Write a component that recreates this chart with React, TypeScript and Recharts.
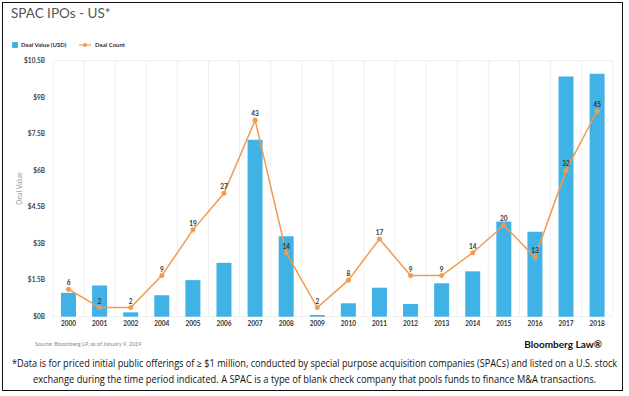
import React, { useLayoutEffect, useRef, useState } from 'react';
import { ComposedChart, Bar, Line, XAxis, YAxis, CartesianGrid, LabelList, Label } from 'recharts';

const years = ['2000', '2001', '2002', '2004', '2005', '2006', '2007', '2008', '2009', '2010', '2011', '2012', '2013', '2014', '2015', '2016', '2017', '2018'];
const dealValue = [0.98, 1.28, 0.18, 0.88, 1.5, 2.21, 7.26, 3.3, 0.07, 0.55, 1.19, 0.52, 1.37, 1.86, 3.9, 3.48, 9.85, 9.96];
const dealCount = [6, 2, 2, 9, 19, 27, 43, 14, 2, 8, 17, 9, 9, 14, 20, 13, 32, 45];
const valueTicks = [0, 1.5, 3, 4.5, 6, 7.5, 9, 10.5];
const valueTickLabels = ['$0B', '$1.5B', '$3B', '$4.5B', '$6B', '$7.5B', '$9B', '$10.5B'];

const footnoteLines = [
  '*Data is for priced initial public offerings of ≥ $1 million, conducted by special purpose acquisition companies (SPACs) and listed on a U.S. stock',
  'exchange during the time period indicated. A SPAC is a type of blank check company that pools funds to finance M&A transactions.',
];

const data = years.map((y, i) => ({ year: y, value: dealValue[i], count: dealCount[i] }));

const BLUE = '#40B2E6';
const ORANGE = '#F29A4F';
const FONT = 'Lato, "Open Sans", sans-serif';

function FitText({ text, left, top, width, fontSize }: { text: string; left: number; top: number; width: number; fontSize: number }) {
  const ref = useRef<HTMLSpanElement>(null);
  const [scale, setScale] = useState(1);
  useLayoutEffect(() => {
    if (ref.current) {
      const w = ref.current.scrollWidth;
      if (w > 0) setScale(width / w);
    }
  }, [text, width]);
  return (
    <div style={{ position: 'absolute', left, top, width, height: 12, overflow: 'visible', lineHeight: 0, fontSize: 0 }}>
      <span
        ref={ref}
        style={{
          display: 'block',
          width: 'max-content',
          whiteSpace: 'nowrap',
          fontSize,
          lineHeight: '12px',
          fontFamily: '"Open Sans", sans-serif',
          color: '#111',
          transform: `scaleX(${scale})`,
          transformOrigin: '0 0',
        }}
      >
        {text}
      </span>
    </div>
  );
}

export default function App() {
  return (
    <div style={{ position: 'absolute', left: 0, top: 0, width: 629, height: 396, background: '#fff', overflow: 'hidden', fontFamily: FONT }}>
      <ComposedChart
        width={629}
        height={340}
        data={data}
        margin={{ top: 60.7, right: 16.3, bottom: 7.3, left: 8 }}
        style={{ position: 'absolute', left: 0, top: 0 }}
      >
        <CartesianGrid
          stroke="#EFEFEF"
          strokeWidth={1}
          verticalCoordinatesGenerator={({ offset }: any) =>
            Array.from({ length: years.length + 1 }, (_, i) => offset.left + (i * offset.width) / years.length)
          }
        />
        <XAxis
          dataKey="year"
          axisLine={false}
          tickLine={false}
          tickSize={0}
          tickMargin={5}
          height={16}
          interval={0}
          tick={{ fontSize: 6.5, fontWeight: 700, fill: '#333', fontFamily: FONT }}
        />
        <YAxis
          yAxisId="value"
          domain={[0, 10.5]}
          ticks={valueTicks}
          tickFormatter={(v: number) => valueTickLabels[valueTicks.indexOf(v)] ?? ''}
          axisLine={false}
          tickLine={false}
          tickSize={0}
          tickMargin={8}
          width={45}
          tick={{ fontSize: 6.5, fontWeight: 700, fill: '#444', fontFamily: FONT }}
        >
          <Label
            content={({ viewBox }: any) => (
              <text
                x={viewBox.x + 11}
                y={viewBox.y + viewBox.height / 2}
                transform={`rotate(-90 ${viewBox.x + 11} ${viewBox.y + viewBox.height / 2})`}
                textAnchor="middle"
                dominantBaseline="central"
                fontSize={7}
                fill="#999"
                fontFamily={FONT}
              >
                Deal Value
              </text>
            )}
          />
        </YAxis>
        <YAxis yAxisId="count" orientation="right" domain={[0, 56]} hide />
        <Bar yAxisId="value" dataKey="value" fill={BLUE} barSize={15} isAnimationActive={false} />
        <Line
          yAxisId="count"
          dataKey="count"
          stroke={ORANGE}
          strokeWidth={1.5}
          dot={{ r: 2.3, fill: ORANGE, stroke: ORANGE, strokeWidth: 0.5 }}
          isAnimationActive={false}
        >
          <LabelList dataKey="count" position="top" offset={4} style={{ fontSize: 6.5, fontWeight: 700, fill: '#333', fontFamily: FONT }} />
        </Line>
      </ComposedChart>

      {/* frame */}
      <div style={{ position: 'absolute', left: 2, top: 2, width: 619, height: 387, border: '1.5px solid #111', pointerEvents: 'none' }} />

      {/* title */}
      <div style={{ position: 'absolute', left: 11, top: 5, fontSize: 13.5, color: '#555', fontFamily: FONT, whiteSpace: 'nowrap' }}>SPAC IPOs - US*</div>

      {/* legend */}
      <div style={{ position: 'absolute', left: 12, top: 42, width: 5.5, height: 5.5, background: BLUE, borderRadius: 1 }} />
      <div style={{ position: 'absolute', left: 21, top: 40, fontSize: 6, fontWeight: 700, color: '#333', fontFamily: FONT, whiteSpace: 'nowrap', lineHeight: '10px' }}>Deal Value (USD)</div>
      <svg style={{ position: 'absolute', left: 78, top: 40 }} width={14} height={10}>
        <line x1={1} y1={5} x2={13} y2={5} stroke={ORANGE} strokeWidth={1.2} />
        <circle cx={7} cy={5} r={2} fill={ORANGE} />
      </svg>
      <div style={{ position: 'absolute', left: 95, top: 40, fontSize: 6, fontWeight: 700, color: '#333', fontFamily: FONT, whiteSpace: 'nowrap', lineHeight: '10px' }}>Deal Count</div>

      {/* source + brand */}
      <div style={{ position: 'absolute', left: 35, top: 340, fontSize: 5.5, color: '#888', fontFamily: FONT, whiteSpace: 'nowrap', lineHeight: '9px' }}>Source: Bloomberg LP, as of January 9, 2019</div>
      <div style={{ position: 'absolute', right: 27, top: 338, fontSize: 10, fontWeight: 700, color: '#111', fontFamily: FONT, whiteSpace: 'nowrap', lineHeight: '12px' }}>Bloomberg Law®</div>

      {/* footnote */}
      <FitText text={footnoteLines[0]} left={12} top={357} width={605} fontSize={10} />
      <FitText text={footnoteLines[1]} left={33} top={373} width={563} fontSize={10} />
    </div>
  );
}
